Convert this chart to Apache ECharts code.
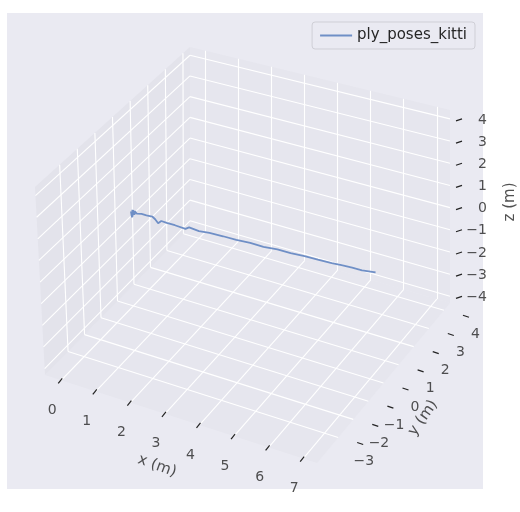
<!DOCTYPE html>
<html><head><meta charset="utf-8">
<script src="https://cdn.jsdelivr.net/npm/echarts@6/dist/echarts.min.js"></script>
<style>html,body{margin:0;padding:0;background:#fff}#c{width:520px;height:512px}</style>
</head><body><div id="c"></div>
<script>
// ---- data ----
const seriesName = 'ply_poses_kitti';
const trajX = [0,0.01,0.02,0.03,0.04,0.06,0.09,0.12,0.18,0.25,0.3,0.38,0.45,0.55,0.65,0.72,0.8,0.95,1.2,1.5,1.6,1.9,2.2,2.6,3.0,3.4,3.8,4.2,4.6,5.0,5.4,5.8,6.1,6.4,6.7,7.0,7.1];
const trajY = [0,0.03,0.05,0.02,0.06,0.08,0.05,0.1,0.08,0.12,0.1,0.15,0.12,0.15,0.12,0.15,0.18,0.2,0.18,0.2,0.22,0.2,0.22,0.22,0.2,0.22,0.2,0.22,0.2,0.22,0.2,0.22,0.2,0.22,0.2,0.2,0.2];
const trajZ = [0.15,-0.15,0.2,-0.1,0.18,-0.05,0.15,0.02,0.12,0.05,0.12,0.02,0.08,0.04,-0.02,-0.2,-0.08,-0.12,-0.1,-0.15,-0.05,-0.08,-0.04,-0.02,0.0,0.03,0.04,0.08,0.1,0.12,0.15,0.15,0.2,0.2,0.22,0.28,0.3];
const xTicks = [0,1,2,3,4,5,6,7];
const yTicks = [-3,-2,-1,0,1,2,3,4];
const zTicks = [-4,-3,-2,-1,0,1,2,3,4];
const xLim = [-0.47, 7.4], yLim = [-4.4, 4.4], zLim = [-4.3, 4.4];

// ---- projection (view of the 3D box) ----
const C = {
  b: {L:[45,375], F:[317,463], R:[450,303], B:[190,227]},
  t: {L:[35,187], F:[314,262], R:[450,110], B:[190,47]}
};
function face(f,u,v){
  const a=(1-u)*(1-v), b=u*(1-v), c=u*v, d=(1-u)*v;
  return [a*f.L[0]+b*f.F[0]+c*f.R[0]+d*f.B[0], a*f.L[1]+b*f.F[1]+c*f.R[1]+d*f.B[1]];
}
function P(x,y,z){
  const u=(x-xLim[0])/(xLim[1]-xLim[0]), v=(y-yLim[0])/(yLim[1]-yLim[0]), w=(z-zLim[0])/(zLim[1]-zLim[0]);
  const p=face(C.b,u,v), q=face(C.t,u,v);
  return [p[0]+(q[0]-p[0])*w, p[1]+(q[1]-p[1])*w];
}
const [x0,x1]=xLim,[y0,y1]=yLim,[z0,z1]=zLim;
const panes = [
  [[7,13],[483,13],[483,489],[7,489]],
  [P(x0,y0,z0),P(x1,y0,z0),P(x1,y1,z0),P(x0,y1,z0)],
  [P(x0,y0,z0),P(x0,y1,z0),P(x0,y1,z1),P(x0,y0,z1)],
  [P(x0,y1,z0),P(x1,y1,z0),P(x1,y1,z1),P(x0,y1,z1)]
];
const grid=[];
xTicks.forEach(x=>{grid.push([P(x,y0,z0),P(x,y1,z0)]);grid.push([P(x,y1,z0),P(x,y1,z1)]);});
yTicks.forEach(y=>{grid.push([P(x0,y,z0),P(x1,y,z0)]);grid.push([P(x0,y,z0),P(x0,y,z1)]);});
zTicks.forEach(z=>{grid.push([P(x0,y0,z),P(x0,y1,z)]);grid.push([P(x0,y1,z),P(x1,y1,z)]);});
const ticks=[], labels=[];
const fmt=v=>String(v).replace('-','\u2212');
xTicks.forEach(x=>{const p=P(x,y0,z0);ticks.push([[p[0]-3,p[1]+3],[p[0]+1,p[1]-2]]);
  labels.push({value:[p[0]-9,p[1]+30],label:{formatter:fmt(x),align:'center'}});});
yTicks.forEach(y=>{const p=P(x1,y,z0);ticks.push([[p[0]+19,p[1]+5],[p[0]+25,p[1]+7]]);
  labels.push({value:[p[0]+36,p[1]+24],label:{formatter:fmt(y),align:'right'}});});
zTicks.forEach(z=>{const p=P(x1,y1,z);ticks.push([[p[0]+6,p[1]+2],[p[0]+12,p[1]]]);
  labels.push({value:[p[0]+37,p[1]+1],label:{formatter:fmt(z),align:'right'}});});
const traj=trajX.map((x,i)=>P(x,trajY[i],trajZ[i]));
const titles=[
  {value:[157,466],label:{formatter:'x (m)',rotate:-20,align:'center',fontSize:15}},
  {value:[423,418],label:{formatter:'y (m)',rotate:55,align:'center',fontSize:15}},
  {value:[510,202],label:{formatter:'z (m)',rotate:90,align:'center',fontSize:15}}
];

const chart=echarts.init(document.getElementById('c'));
chart.setOption({
  animation:false,
  backgroundColor:'#fff',
  grid:{left:0,top:0,width:520,height:512,show:false},
  xAxis:{type:'value',min:0,max:520,show:false},
  yAxis:{type:'value',min:0,max:512,inverse:true,show:false},
  legend:{data:[seriesName],right:45,top:22,padding:[6,8],itemGap:0,itemWidth:32,itemHeight:2,
    backgroundColor:'#eaeaf2',borderColor:'#cfcfd6',borderWidth:1,borderRadius:3,
    icon:'rect',textStyle:{color:'#262626',fontSize:15,fontFamily:'DejaVu Sans'}},
  series:[
    {type:'custom',silent:true,clip:false,data:panes.map((p,i)=>i),z:1,
     renderItem:(params,api)=>({type:'polygon',shape:{points:panes[api.value(0)].map(pt=>api.coord(pt))},
       style:{fill:['#eaeaf2','#e6e6ee','#e3e3eb','#e6e6ee'][api.value(0)],stroke:null}})},
    {type:'lines',coordinateSystem:'cartesian2d',silent:true,z:2,data:grid.map(c=>({coords:c})),
     lineStyle:{color:'#ffffff',width:1.1,opacity:1}},
    {type:'lines',coordinateSystem:'cartesian2d',silent:true,z:2,data:ticks.map(c=>({coords:c})),
     lineStyle:{color:'#222',width:1.2,opacity:1}},
    {type:'scatter',silent:true,clip:false,symbolSize:0,z:3,data:labels.concat(titles),
     label:{show:true,position:'inside',color:'#262626',fontSize:14,fontFamily:'DejaVu Sans',verticalAlign:'middle'}},
    {name:seriesName,type:'line',data:traj,showSymbol:false,z:4,color:'#6f8fc6',
     lineStyle:{color:'#6f8fc6',width:1.8},itemStyle:{color:'#6f8fc6'}}
  ]
});
</script></body></html>
